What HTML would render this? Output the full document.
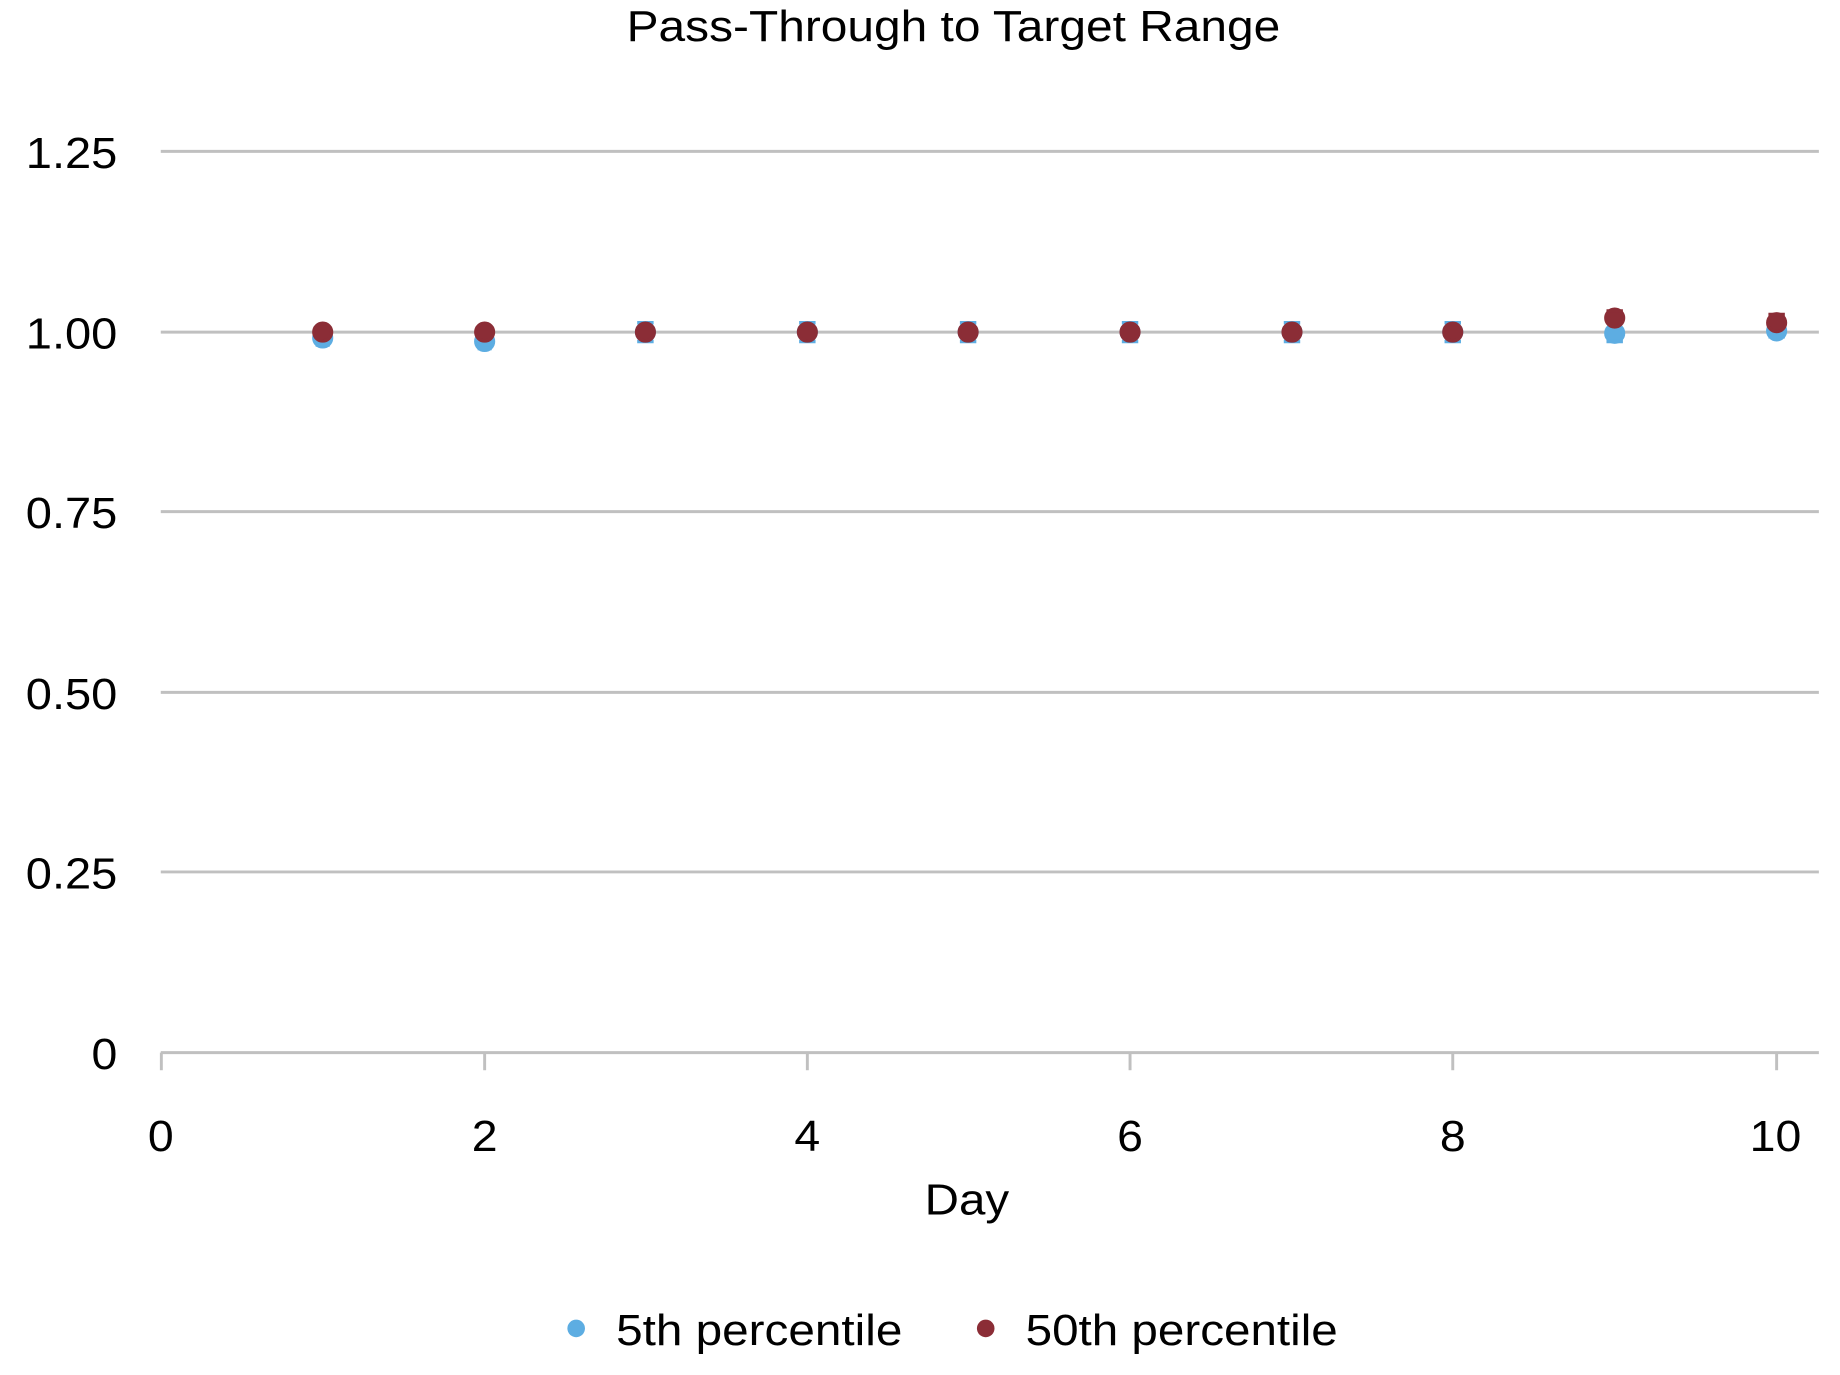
<!DOCTYPE html>
<html><head><style>html,body{margin:0;padding:0;background:#fff}svg{display:block}</style></head>
<body>
<svg width="1840" height="1375" viewBox="0 0 1568 1171.7" preserveAspectRatio="none" xmlns="http://www.w3.org/2000/svg" font-family="Liberation Sans, sans-serif">
<text x="534" y="35" font-size="37" textLength="557" lengthAdjust="spacingAndGlyphs" fill="#000">Pass-Through to Target Range</text>
<g stroke="#c0c0c0" stroke-width="2.5">
<line x1="137" x2="1550" y1="129" y2="129"/>
<line x1="137" x2="1550" y1="283" y2="283"/>
<line x1="137" x2="1550" y1="436" y2="436"/>
<line x1="137" x2="1550" y1="590" y2="590"/>
<line x1="137" x2="1550" y1="743" y2="743"/>
<line x1="137" x2="1550" y1="897" y2="897"/>
<line x1="137.5" x2="137.5" y1="897" y2="912"/>
<line x1="413" x2="413" y1="897" y2="912"/>
<line x1="688" x2="688" y1="897" y2="912"/>
<line x1="963" x2="963" y1="897" y2="912"/>
<line x1="1238" x2="1238" y1="897" y2="912"/>
<line x1="1514" x2="1514" y1="897" y2="912"/>
</g>
<g font-size="37" fill="#000" lengthAdjust="spacingAndGlyphs">
<text x="22" y="143" textLength="78" lengthAdjust="spacingAndGlyphs">1.25</text>
<text x="22" y="297" textLength="78" lengthAdjust="spacingAndGlyphs">1.00</text>
<text x="22" y="450" textLength="78" lengthAdjust="spacingAndGlyphs">0.75</text>
<text x="22" y="604" textLength="78" lengthAdjust="spacingAndGlyphs">0.50</text>
<text x="22" y="757" textLength="78" lengthAdjust="spacingAndGlyphs">0.25</text>
<text x="78" y="911" textLength="22" lengthAdjust="spacingAndGlyphs">0</text>
</g>
<g font-size="37" fill="#000">
<text x="126" y="981" textLength="22" lengthAdjust="spacingAndGlyphs">0</text>
<text x="402" y="981" textLength="22" lengthAdjust="spacingAndGlyphs">2</text>
<text x="677" y="981" textLength="22" lengthAdjust="spacingAndGlyphs">4</text>
<text x="952" y="981" textLength="22" lengthAdjust="spacingAndGlyphs">6</text>
<text x="1227" y="981" textLength="22" lengthAdjust="spacingAndGlyphs">8</text>
<text x="1491" y="981" textLength="44" lengthAdjust="spacingAndGlyphs">10</text>
<text x="788" y="1035" textLength="72" lengthAdjust="spacingAndGlyphs">Day</text>
</g>
<g fill="#5dade2" stroke="#5dade2" stroke-width="3">
<circle cx="275" cy="288" r="7.5"/><line x1="269" x2="281" y1="294" y2="294"/>
<circle cx="413" cy="291" r="7.5"/><line x1="407" x2="419" y1="297" y2="297"/>
<circle cx="550" cy="283" r="7.5"/><line x1="543" x2="557" y1="275" y2="275"/><line x1="543" x2="557" y1="291" y2="291"/>
<circle cx="688" cy="283" r="7.5"/><line x1="681" x2="695" y1="275" y2="275"/><line x1="681" x2="695" y1="291" y2="291"/>
<circle cx="825" cy="283" r="7.5"/><line x1="818" x2="832" y1="275" y2="275"/><line x1="818" x2="832" y1="291" y2="291"/>
<circle cx="963" cy="283" r="7.5"/><line x1="956" x2="970" y1="275" y2="275"/><line x1="956" x2="970" y1="291" y2="291"/>
<circle cx="1101" cy="283" r="7.5"/><line x1="1094" x2="1108" y1="275" y2="275"/><line x1="1094" x2="1108" y1="291" y2="291"/>
<circle cx="1238" cy="283" r="7.5"/><line x1="1231" x2="1245" y1="275" y2="275"/><line x1="1231" x2="1245" y1="291" y2="291"/>
<circle cx="1376" cy="284" r="7.5"/><line x1="1369" x2="1383" y1="291" y2="291"/>
<circle cx="1514" cy="282" r="7.5"/><line x1="1507" x2="1521" y1="287" y2="287"/>
<circle cx="491" cy="1132" r="7.5" stroke="none"/>
</g>
<g fill="#8b2d36" stroke="#8b2d36" stroke-width="3">
<circle cx="275" cy="283" r="7.5"/>
<circle cx="413" cy="283" r="7.5"/>
<circle cx="550" cy="283" r="7.5"/>
<circle cx="688" cy="283" r="7.5"/>
<circle cx="825" cy="283" r="7.5"/>
<circle cx="963" cy="283" r="7.5"/>
<circle cx="1101" cy="283" r="7.5"/>
<circle cx="1238" cy="283" r="7.5"/>
<circle cx="1376" cy="271" r="7.5"/><line x1="1369" x2="1383" y1="265" y2="265"/>
<circle cx="1514" cy="275" r="7.5"/><line x1="1507" x2="1521" y1="268" y2="268"/>
<circle cx="840" cy="1132" r="7.5" stroke="none"/>
</g>
<g font-size="37" fill="#000">
<text x="525" y="1146" textLength="244" lengthAdjust="spacingAndGlyphs">5th percentile</text>
<text x="874" y="1146" textLength="266" lengthAdjust="spacingAndGlyphs">50th percentile</text>
</g>
</svg>
</body></html>
